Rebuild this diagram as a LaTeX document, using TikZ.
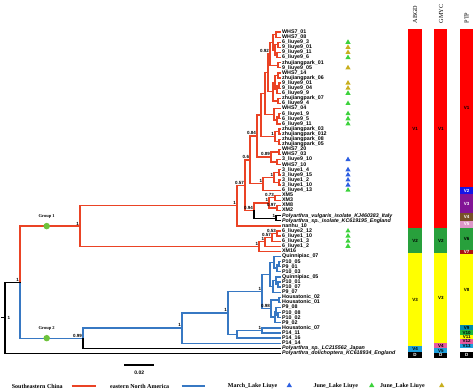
\documentclass[tikz,border=0pt]{standalone}
\usepackage{fontspec}
\setmainfont{Liberation Serif}
\setsansfont{Liberation Sans}
\usetikzlibrary{shapes.geometric}
\definecolor{tred}{RGB}{234,67,37}
\definecolor{tblue}{RGB}{55,120,195}
\definecolor{dotgreen}{RGB}{110,195,60}
\definecolor{trib}{RGB}{45,95,225}
\definecolor{trig}{RGB}{60,210,60}
\definecolor{triy}{RGB}{200,175,30}
\definecolor{sred}{RGB}{255,0,0}
\definecolor{sgreen}{RGB}{40,160,60}
\definecolor{syel}{RGB}{255,255,0}
\definecolor{slblue}{RGB}{30,160,220}
\definecolor{spink}{RGB}{230,90,160}
\definecolor{sblue}{RGB}{20,20,230}
\definecolor{spurple}{RGB}{130,20,150}
\definecolor{sbrown}{RGB}{120,80,40}
\definecolor{slpink}{RGB}{220,150,200}
\definecolor{sdred}{RGB}{170,20,20}
\definecolor{steal}{RGB}{0,140,170}
\definecolor{sgreenb}{RGB}{30,180,60}
\tikzset{
 redbr/.style={draw=tred, line width=1.3pt, line cap=rect},
 bluebr/.style={draw=tblue, line width=1.3pt, line cap=rect},
 blkbr/.style={draw=black, line width=1.3pt, line cap=rect},
 tip/.style={anchor=west, inner xsep=1.5pt, inner ysep=0pt, font=\sffamily\bfseries\fontsize{5.3}{5.3}\selectfont, text height=3.8pt, text depth=1pt},
 nl/.style={anchor=south east, inner sep=0pt, font=\sffamily\bfseries\fontsize{4.5}{4.5}\selectfont},
 tri/.style={regular polygon, regular polygon sides=3, inner sep=0pt, minimum size=6pt},
 gdot/.style={circle, fill=dotgreen, inner sep=0pt, minimum size=6.5pt},
 grp/.style={font=\bfseries\fontsize{4.5}{4.5}\selectfont, inner sep=0pt},
 seglab/.style={font=\sffamily\bfseries\fontsize{4.5}{4.5}\selectfont, inner sep=0pt},
 hdr/.style={rotate=90, anchor=west, font=\fontsize{6.2}{6.2}\selectfont, inner sep=0pt},
 leg/.style={anchor=west, inner sep=0pt, font=\bfseries\fontsize{6}{6}\selectfont},
}
\newcommand\colseg[8]{\fill[#5] (#1,#3) rectangle (#2,#4); \node[seglab,text=#6] (#8) at ({(#1+#2)/2},{(#3+#4)/2}) {#7};}
\begin{document}
\begin{tikzpicture}[x=1pt,y=-1pt]
\useasboundingbox (0,0) rectangle (474,390);
\begin{scope}[y=-5.1pt, yshift=-27pt]
% tips
\foreach \i/\t in {1/WHS7\_01,2/WHS7\_08,3/6\_liuye9\_3,4/9\_liuye9\_01,5/9\_liuye9\_11,6/6\_liuye9\_6,7/zhujiangpark\_01,8/9\_liuye9\_05,9/WHS7\_14,10/zhujiangpark\_06,11/9\_liuye9\_01,12/9\_liuye9\_04,13/6\_liuye9\_9,14/zhujiangpark\_07,15/6\_liuye9\_4,16/WHS7\_04,17/6\_liuye1\_9,18/6\_liuye9\_5,19/6\_liuye9\_11,20/zhujiangpark\_03,21/zhujiangpark\_012,22/zhujiangpark\_08,23/zhujiangpark\_05,24/WHS7\_20,25/WHS7\_03,26/3\_liuye9\_10,27/WHS7\_10,28/3\_liuye1\_4,29/3\_liuye9\_15,30/3\_liuye1\_2,31/3\_liuye1\_10,32/6\_liuye4\_13,33/XM5,34/XM3,35/XM8,36/XM2,37/\textit{Polyarthra\_vulgaris\_isolate\_KJ460383\_Italy},38/\textit{Polyarthra\_sp.\_isolate\_KC619195\_England},39/nanhu\_10,40/6\_liuye2\_12,41/6\_liuye1\_10,42/6\_liuye1\_3,43/6\_liuye1\_2,44/XM16,45/Quinnipiac\_07,46/P10\_05,47/P9\_01,48/P10\_03,49/Quinnipiac\_05,50/P10\_01,51/P10\_07,52/P9\_07,53/Housatonic\_02,54/Housatonic\_01,55/P9\_08,56/P10\_08,57/P10\_02,58/P9\_02,59/Housatonic\_07,60/P14\_11,61/P14\_16,62/P14\_14,63/\textit{Polyarthra\_sp.\_LC215562\_Japan},64/\textit{Polyarthra\_dolichoptera\_KC618934\_England}}
  \node[tip] (t\i) at (280.5,\i) {\t};
% internal nodes
\coordinate (n1) at (276,1.5);
\coordinate (n2) at (278,3.5);
\coordinate (n3) at (277,5.5);
\coordinate (n4) at (275,4.5);
\coordinate (n5) at (273,3.0);
\coordinate (n6) at (278,7.5);
\coordinate (n7) at (270,5.25);
\coordinate (n8) at (278,9.5);
\coordinate (n9) at (279,11.5);
\coordinate (n10) at (277,12.25);
\coordinate (n11) at (275,10.875);
\coordinate (n12) at (278,14.5);
\coordinate (n13) at (273,12.69);
\coordinate (n14) at (268,8.97);
\coordinate (n15) at (279,17.5);
\coordinate (n16) at (277,18.25);
\coordinate (n17) at (274,17.125);
\coordinate (n18) at (265,13.05);
\coordinate (n19) at (279,20.5);
\coordinate (n20) at (279,22.5);
\coordinate (n21) at (275,21.5);
\coordinate (n22) at (261,17.27);
\coordinate (n23) at (279,24.5);
\coordinate (n24) at (277,26.5);
\coordinate (n28) at (271,25.5);
\coordinate (n30) at (257,21.39);
\coordinate (n25) at (279,28.5);
\coordinate (n26) at (279,30.5);
\coordinate (n27) at (274,29.5);
\coordinate (n32) at (263,30.75);
\coordinate (n31) at (250,26.07);
\coordinate (rka) at (275,33.5);
\coordinate (rkb) at (277,35.5);
\coordinate (rk) at (269,34.5);
\coordinate (rp) at (276,37.5);
\coordinate (rg) at (254,36.0);
\coordinate (rf) at (245,31.04);
\coordinate (re) at (237,35.02);
\coordinate (ra) at (277,40.5);
\coordinate (rb) at (272,41.25);
\coordinate (rc) at (265,42.125);
\coordinate (rd) at (259,43.06);
\coordinate (g1) at (80,39.04);
\coordinate (b1) at (279,46.5);
\coordinate (b2) at (277,47.25);
\coordinate (b3) at (274,46.125);
\coordinate (b4) at (278,50.5);
\coordinate (b5) at (276,49.75);
\coordinate (b6) at (273,50.875);
\coordinate (b7) at (270,48.5);
\coordinate (b8) at (279,53.5);
\coordinate (b9) at (278,56.5);
\coordinate (b10) at (276,55.75);
\coordinate (b11) at (275,56.875);
\coordinate (b12) at (271,55.19);
\coordinate (b13) at (262,51.84);
\coordinate (b14) at (262,59.5);
\coordinate (b15) at (237,60.25);
\coordinate (b16) at (228,56.05);
\coordinate (b17) at (182,59.02);
\coordinate (g2) at (83,61.01);
\coordinate (n0) at (20,50.03);
\coordinate (rt) at (5,57.01);
\coordinate (rs) at (2,57.01);
% red edges
\foreach \p/\c in {n1/t1.west,n1/t2.west,n2/t3.west,n2/t4.west,n3/t5.west,n3/t6.west,n4/n2,n4/n3,n5/n1,n5/n4,n6/t7.west,n6/t8.west,n7/n5,n7/n6,n8/t9.west,n8/t10.west,n9/t11.west,n9/t12.west,n10/n9,n10/t13.west,n11/n8,n11/n10,n12/t14.west,n12/t15.west,n13/n11,n13/n12,n14/n7,n14/n13,n15/t17.west,n15/t18.west,n16/n15,n16/t19.west,n17/t16.west,n17/n16,n18/n14,n18/n17,n19/t20.west,n19/t21.west,n20/t22.west,n20/t23.west,n21/n19,n21/n20,n22/n18,n22/n21,n23/t24.west,n23/t25.west,n24/t26.west,n24/t27.west,n28/n23,n28/n24,n30/n22,n30/n28,n25/t28.west,n25/t29.west,n26/t30.west,n26/t31.west,n27/n25,n27/n26,n32/n27,n32/t32.west,n31/n30,n31/n32,rka/t33.west,rka/t34.west,rkb/t35.west,rkb/t36.west,rk/rka,rk/rkb,rg/rk,rf/n31,rf/rg,re/rf,re/t39.west,ra/t40.west,ra/t41.west,rb/ra,rb/t42.west,rc/rb,rc/t43.west,rd/rc,rd/t44.west,g1/re,g1/rd,n0/g1}
  \draw[redbr] (\p) |- (\c);
% blue edges
\foreach \p/\c in {b1/t46.west,b1/t47.west,b2/b1,b2/t48.west,b3/t45.west,b3/b2,b4/t50.west,b4/t51.west,b5/t49.west,b5/b4,b6/b5,b6/t52.west,b7/b3,b7/b6,b8/t53.west,b8/t54.west,b9/t56.west,b9/t57.west,b10/t55.west,b10/b9,b11/b10,b11/t58.west,b12/b8,b12/b11,b13/b7,b13/b12,b14/t59.west,b14/t60.west,b15/b14,b15/t61.west,b16/b13,b16/b15,b17/b16,b17/t62.west,g2/b17,n0/g2}
  \draw[bluebr] (\p) |- (\c);
% black edges
\foreach \p/\c in {rg/rp,rp/t37.west,rp/t38.west,g2/t63.west,rt/n0,rt/t64.west}
  \draw[blkbr] (\p) |- (\c);
\draw[blkbr] (rs) -- (rt);
% support values
\foreach \n/\v in {n7/0.92,n21/1,n30/0.84,n28/0.89,n31/0.6,n27/1,n32/1,rka/0.73,rk/1,rkb/0.97,rp/1,rg/0.94,rf/0.57,re/1,ra/0.53,rb/0.57,rc/1,rd/1,g1/1,b12/0.98,b13/1,b14/1,b16/1,b17/1,g2/0.99,n0/1}
  \node[nl] (l\n) at ([xshift=-0.8pt,yshift=0.9pt]\n) {\v};
\node[nl,anchor=west] (lrt) at ([xshift=2.5pt]rt) {1};
% group dots
\node[gdot] (dot1) at (46.7,39.04) {};
\node[gdot] (dot2) at (46.7,61.01) {};
\node[grp] (grp1) at ([yshift=9.5pt]dot1) {Group 1};
\node[grp] (grp2) at ([yshift=10pt]dot2) {Group 2};
% triangles
\foreach \i/\c in {3/trig,4/triy,5/triy,6/trig,8/triy,11/triy,12/triy,13/trig,15/trig,17/trig,18/trig,19/trig,26/trib,28/trib,29/trib,30/trib,31/trib,32/trig,40/trig,41/trig,42/trig,43/trig}
  \node[tri,fill=\c] (m\i) at (348,\i) {};
\end{scope}
% headers
\node[hdr] (hA) at (415,23.5) {ABGD};
\node[hdr] (hG) at (441,23.5) {GMYC};
\node[hdr] (hP) at (466.7,23.5) {PTP};
% ABGD column
\colseg{408.3}{421.7}{29}{228.3}{sred}{black}{V1}{a1}
\colseg{408.3}{421.7}{228.3}{253.3}{sgreen}{black}{V2}{a2}
\colseg{408.3}{421.7}{253.3}{345.7}{syel}{black}{V3}{a3}
\colseg{408.3}{421.7}{345.7}{351.7}{slblue}{black}{V4}{a4}
\colseg{408.3}{421.7}{351.7}{357.5}{black}{white}{D}{a5}
% GMYC column
\colseg{434.3}{447.3}{29}{228.3}{sred}{black}{V1}{c1}
\colseg{434.3}{447.3}{228.3}{253.3}{sgreen}{black}{V2}{c2}
\colseg{434.3}{447.3}{253.3}{343.3}{syel}{black}{V3}{c3}
\colseg{434.3}{447.3}{343.3}{348.3}{spink}{black}{V4}{c4}
\colseg{434.3}{447.3}{348.3}{352.7}{slblue}{black}{V5}{c5}
\colseg{434.3}{447.3}{352.7}{357.5}{black}{white}{D}{c6}
% PTP column
\colseg{460}{473.3}{29}{187.3}{sred}{black}{V1}{p1}
\colseg{460}{473.3}{187.3}{194}{sblue}{white}{V2}{p2}
\colseg{460}{473.3}{194}{213.3}{spurple}{white}{V3}{p3}
\colseg{460}{473.3}{213.3}{220.7}{sbrown}{white}{V4}{p4}
\colseg{460}{473.3}{220.7}{227.7}{slpink}{white}{V5}{p5}
\colseg{460}{473.3}{227.7}{250}{sgreen}{black}{V6}{p6}
\colseg{460}{473.3}{250}{254}{sdred}{white}{V7}{p7}
\colseg{460}{473.3}{254}{325}{syel}{black}{V8}{p8}
\colseg{460}{473.3}{325}{330}{steal}{black}{V9}{p9}
\colseg{460}{473.3}{330}{335}{sgreenb}{black}{V10}{p10}
\colseg{460}{473.3}{335}{339}{syel}{black}{V11}{p11}
\colseg{460}{473.3}{339}{343.5}{spink}{black}{V12}{p12}
\colseg{460}{473.3}{343.5}{348}{slblue}{black}{V13}{p13}
\colseg{460}{473.3}{352}{357.5}{black}{white}{D}{p14}
% scale bar
\coordinate (sb1) at (124,365);
\coordinate (sb2) at (154,365);
\draw[line width=1.3pt] (sb1) -- (sb2);
\node[seglab,font=\sffamily\bfseries\fontsize{5}{5}\selectfont] (sbl) at (139.3,372.7) {0.02};
% legend
\node[leg] (lg1) at (11.7,386) {Southeastern China};
\draw[tred,line width=1.3pt] (71.7,386) -- (96,386);
\node[leg] (lg2) at (110,386) {eastern North America};
\draw[tblue,line width=1.3pt] (181.7,386) -- (205,386);
\node[leg] (lg3) at (227.7,386) {March\_Lake Liuye};
\node[tri,fill=trib] (lt1) at (289.3,385.5) {};
\node[leg] (lg4) at (313.3,386) {June\_Lake Liuye};
\node[tri,fill=trig] (lt2) at (371.7,385.5) {};
\node[leg] (lg5) at (380,386) {June\_Lake Liuye};
\node[tri,fill=triy] (lt3) at (441.7,385.5) {};
\end{tikzpicture}
\end{document}
